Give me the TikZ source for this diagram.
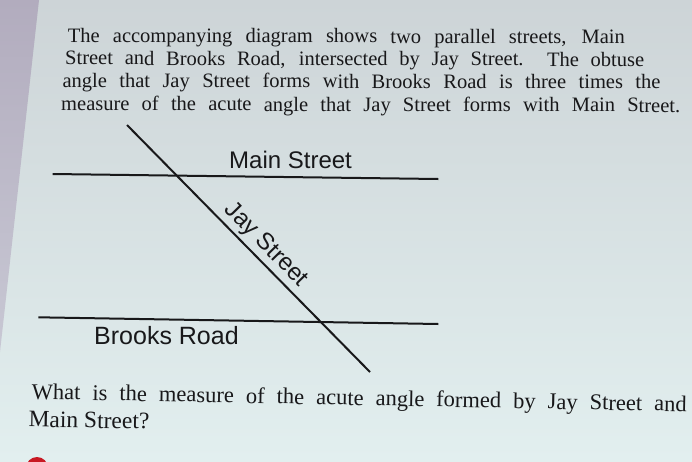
\documentclass[tikz,border=0pt]{standalone}
\usepackage{fontspec}
\setmainfont{Liberation Serif}
\newfontfamily\labfont{Liberation Sans}
\definecolor{bgtop}{RGB}{205,212,215}
\definecolor{bgbot}{RGB}{226,239,239}
\definecolor{striptop}{RGB}{178,172,190}
\definecolor{stripbot}{RGB}{200,200,212}
\definecolor{ink}{RGB}{24,24,26}
\definecolor{blob}{RGB}{200,25,35}
\tikzset{
  street/.style={line width=2pt, draw=ink},
  para/.style={font=\fontsize{20.5}{24}\selectfont, text=ink, anchor=base west, inner sep=0pt, rotate=-0.15},
  quest/.style={font=\fontsize{22.5}{26}\selectfont, text=ink, anchor=base west, inner sep=0pt, rotate=-1.1},
  lab/.style={font=\labfont\fontsize{24}{28}\selectfont, text=ink, inner sep=0pt}
}
\begin{document}
\begin{tikzpicture}[x=1pt,y=-1pt]
\useasboundingbox (0,0) rectangle (692,461);
\begin{scope}
\clip (0,0) rectangle (692,461);
\shade[top color=bgtop, bottom color=bgbot] (0,0) rectangle (692,461);
\shade[top color=striptop, bottom color=stripbot] (0,0) -- (39,0) -- (0,352) -- cycle;
\fill[blob] (37,468) circle (11);
\end{scope}

% paragraph
\node[para] (p1) at (67.7,42.2) {\makebox[557pt][s]{The accompanying diagram shows two parallel streets, Main}};
\node[para] (p2) at (65,64.8) {\makebox[579pt][s]{Street and Brooks Road, intersected by Jay Street.\ \ The obtuse}};
\node[para] (p3) at (62.3,87.3) {\makebox[598pt][s]{angle that Jay Street forms with Brooks Road is three times the}};
\node[para] (p4) at (61,110.5) {\makebox[619pt][s]{measure of the acute angle that Jay Street forms with Main Street.}};

% streets
\coordinate (mainA) at (52.7,174);
\coordinate (mainB) at (438.3,179);
\coordinate (brookA) at (38.3,317.3);
\coordinate (brookB) at (438.3,324);
\coordinate (jayA) at (127,125);
\coordinate (jayB) at (370,372);
\draw[street] (mainA) -- (mainB);
\draw[street] (brookA) -- (brookB);
\draw[street] (jayA) -- (jayB);

\node[lab, anchor=base west] (mainlab) at (229,168.3) {Main Street};
\node[lab, anchor=base west, font=\labfont\fontsize{25}{29}\selectfont] (brooklab) at (94,344) {Brooks Road};
\node[lab, anchor=center, rotate=-45.5] (jaylab) at (266,245) {Jay Street};

% question
\node[quest] (q1) at (31.5,399) {\makebox[655pt][s]{What is the measure of the acute angle formed by Jay Street and}};
\node[quest, font=\fontsize{23.5}{27}\selectfont] (q2) at (28.3,426.7) {Main Street?};
\end{tikzpicture}
\end{document}
